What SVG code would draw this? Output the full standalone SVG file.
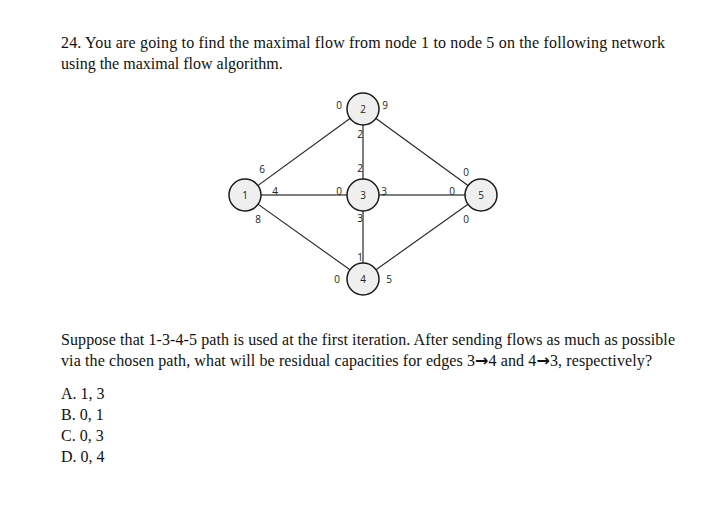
<svg xmlns="http://www.w3.org/2000/svg" width="719" height="507" viewBox="0 0 719 507">
<style>
.t{font-family:"Liberation Serif","Times New Roman",serif;font-size:16px;fill:#111}
.ar{font-family:"DejaVu Sans",sans-serif;font-weight:bold;font-size:16px}
.n{fill:#efefef;stroke:#1a1a1a;stroke-width:1.5}
.nl{font-family:"Open Sans","DejaVu Sans",sans-serif;font-size:10px;fill:#222;text-anchor:middle}
.el{font-family:"Open Sans","DejaVu Sans",sans-serif;font-size:10px;fill:#222;text-anchor:middle}
.e{stroke:#222;stroke-width:1.1;fill:none}
.e2{stroke:#555;stroke-width:1.5;fill:none}
</style>
<rect width="719" height="507" fill="#fff"/>
<g id="text-question">
<text class="t" x="61" y="48" textLength="604" lengthAdjust="spacing">24. You are going to find the maximal flow from node 1 to node 5 on the following network</text>
<text class="t" x="61" y="69">using the maximal flow algorithm.</text>
<text class="t" x="61" y="345" textLength="614" lengthAdjust="spacing">Suppose that 1-3-4-5 path is used at the first iteration. After sending flows as much as possible</text>
<text class="t" x="61" y="366" textLength="591" lengthAdjust="spacing">via the chosen path, what will be residual capacities for edges 3<tspan class="ar">→</tspan>4 and 4<tspan class="ar">→</tspan>3, respectively?</text>
<text class="t" x="61" y="399">A. 1, 3</text>
<text class="t" x="61" y="420">B. 0, 1</text>
<text class="t" x="61" y="441">C. 0, 3</text>
<text class="t" x="61" y="462">D. 0, 4</text>
</g>
<g id="connectors">
<line class="e" x1="245" y1="195" x2="363" y2="109"/>
<line class="e" x1="363" y1="109" x2="481" y2="195"/>
<line class="e" x1="245" y1="195" x2="363" y2="279"/>
<line class="e" x1="363" y1="279" x2="481" y2="195"/>
<line class="e2" x1="245" y1="195" x2="481" y2="195"/>
<line class="e2" x1="363" y1="109" x2="363" y2="279"/>
</g>
<g id="edge-labels">
<text class="el" x="339" y="109">0</text>
<text class="el" x="385" y="109">9</text>
<text class="el" x="360" y="137.5">2</text>
<text class="el" x="262" y="172.5">6</text>
<text class="el" x="360" y="171.5">2</text>
<text class="el" x="466" y="176">0</text>
<text class="el" x="275" y="194.5">4</text>
<text class="el" x="339" y="194.5">0</text>
<text class="el" x="384" y="194.5">3</text>
<text class="el" x="452" y="194.5">0</text>
<text class="el" x="258" y="223">8</text>
<text class="el" x="360" y="222">3</text>
<text class="el" x="466" y="222.5">0</text>
<text class="el" x="360" y="261">1</text>
<text class="el" x="337" y="282.5">0</text>
<text class="el" x="389" y="282.5">5</text>
</g>
<g id="node-1"><circle class="n" cx="245" cy="195" r="16"/><text class="nl" x="245" y="198.6">1</text></g>
<g id="node-2"><circle class="n" cx="363" cy="109" r="16"/><text class="nl" x="363" y="112.6">2</text></g>
<g id="node-3"><circle class="n" cx="363" cy="195" r="16"/><text class="nl" x="363" y="198.6">3</text></g>
<g id="node-4"><circle class="n" cx="363" cy="279" r="16"/><text class="nl" x="363" y="282.6">4</text></g>
<g id="node-5"><circle class="n" cx="481" cy="195" r="16"/><text class="nl" x="481" y="198.6">5</text></g>
</svg>
